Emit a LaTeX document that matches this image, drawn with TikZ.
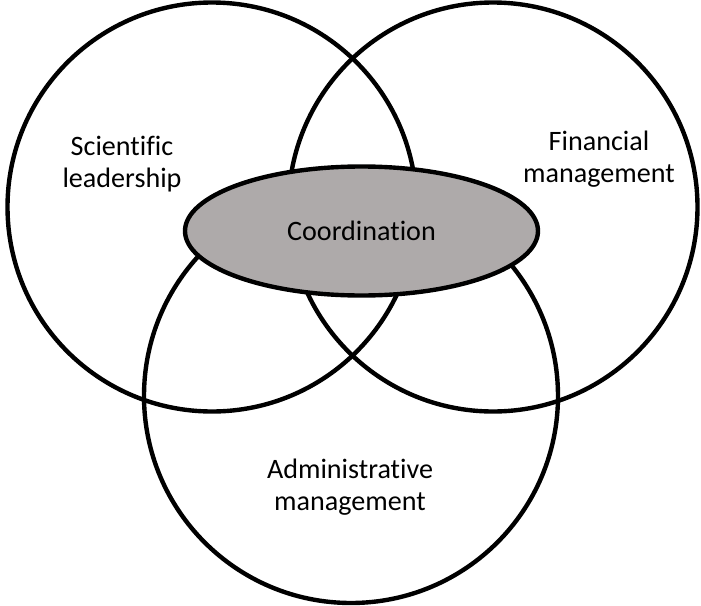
\documentclass[tikz,border=0pt]{standalone}
\usepackage{fontspec}
\setmainfont{Carlito}[Ligatures=NoCommon]
\usepackage{xcolor}
\usepackage{tikz}
\usetikzlibrary{calc}
\definecolor{ring}{HTML}{000000}
\definecolor{core}{HTML}{AEAAAA}

\begin{document}
\begin{tikzpicture}[every node/.style={align=center, font=\fontsize{16}{18.5}\selectfont}]
\useasboundingbox (0,0) rectangle (14.02,-12.12);
% centres of the three areas and of the core
\coordinate (SL) at ($(4.24,-4.14)$);
\coordinate (FM) at ($(9.86,-4.14)$);
\coordinate (AM) at ($(7.02,-7.92)$);
\coordinate (C) at ($(7.23,-4.62)$);

\draw[line width=2.5pt, color=ring] (SL) circle (4.09);
\draw[line width=2.5pt, color=ring] (FM) circle (4.09);
\draw[line width=2.5pt, color=ring] (AM) circle (4.14);

%the coordination ellipse sits on top of the overlap
\draw[line width=2.5pt, color=ring, fill=core] (C) ellipse (3.53 and 1.29);

\node (sci) at ($(2.44,-3.28)$) {Scientific\\leadership};
\node (fin) at ($(11.98,-3.18)$) {Financial\\management};
\node (adm) at ($(7.00,-9.74)$) {Administrative\\management};
\node (coord) at (C) {Coordination};

\end{tikzpicture}
\end{document}
